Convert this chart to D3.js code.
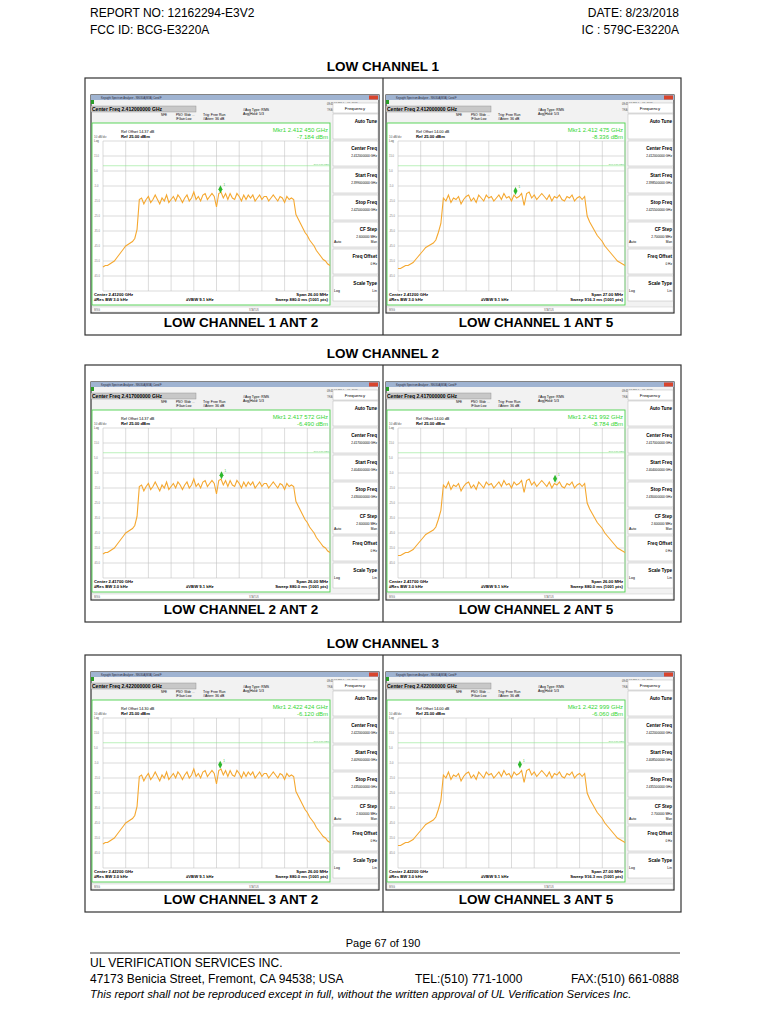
<!DOCTYPE html>
<html><head><meta charset="utf-8">
<script src="https://cdn.jsdelivr.net/npm/d3@7"></script>
<style>body{margin:0;background:#fff}svg{display:block}</style>
</head><body><svg id="c" width="768" height="1024"></svg>
<script>
// ---- data ----
const rowTitles = ["LOW CHANNEL 1","LOW CHANNEL 2","LOW CHANNEL 3"];
const captions = ["LOW CHANNEL 1 ANT 2","LOW CHANNEL 1 ANT 5","LOW CHANNEL 2 ANT 2","LOW CHANNEL 2 ANT 5","LOW CHANNEL 3 ANT 2","LOW CHANNEL 3 ANT 5"];
const centerFreqs = ["2.412000000","2.412000000","2.417000000","2.417000000","2.422000000","2.422000000"];
const centerShort = ["2.41200","2.41200","2.41700","2.41700","2.42200","2.42200"];
const refOffsets = ["14.37","14.00","14.37","14.00","14.30","14.00"];
const mkrFreqs = ["2.412 450","2.412 475","2.417 572","2.421 992","2.422 424","2.422 999"];
const mkrLevels = [-7.184,-8.336,-6.490,-8.784,-6.120,-6.060];
const spans = [26.00,27.00,26.00,26.00,26.00,27.00];
const sweeps = ["880.0","916.3","880.0","880.0","880.0","916.3"];
const startFreqs = ["2.399000000","2.398500000","2.404000000","2.404000000","2.409000000","2.408500000"];
const stopFreqs = ["2.425000000","2.425500000","2.430000000","2.430000000","2.435000000","2.435500000"];
const cfSteps = ["2.600000","2.700000","2.600000","2.600000","2.600000","2.700000"];
const yTicks = [25,15,5,-5,-15,-25,-35,-45,-55,-65,-75];
const limitLine = 8.5;
// trace (dBm) at evenly spaced points across the span
const traceA = [-59,-58,-58,-57,-56,-55,-53,-51,-49,-47,-45,-44,-43,-42,-40,-34,
 -14,-13,-17,-14,-12,-16,-14,-11,-14,-17,
 -13,-15,-11,-16,-14,-12,-15,-11,-13,-16,
 -13,-11,-15,-13,-9,-14,-12,-15,-11,-10,
 -14,-12,-10,-12,-19,-10,-9,-13,-10,-14,
 -10,-13,-14,-10,-12,-15,-11,-14,-11,-13,
 -11,-15,-13,-11,-14,-12,-12,-15,-13,-11,
 -13,-15,-12,-13,-16,-12,-14,-13,-14,
 -24,-27,-30,-33,-36,-38,-41,-43,-45,-48,-50,-52,-54,-55,-57,-58];
const traceB = [-60,-60,-59,-58,-58,-57,-56,-54,-52,-50,-48,-46,-45,-44,-43,-41,-36,-30,
 -13,-15,-11,-16,-13,-14,-12,-17,-14,-12,
 -11,-15,-13,-16,-11,-13,-15,-11,-13,-12,
 -15,-13,-11,-14,-10,-13,-12,-15,-11,-13,
 -12,-10,-18,-10,-9,-13,-11,-14,-12,-10,
 -12,-14,-11,-15,-12,-13,-11,-14,-15,-12,
 -13,-11,-15,-13,-12,-14,-12,
 -25,-29,-32,-35,-38,-40,-42,-45,-47,-49,-51,-53,-55,-56,-57,-58];
const traces=[traceA,traceB,traceA,traceB,traceA,traceB];

const svg=d3.select("#c");
const F="Liberation Sans, Arial, sans-serif";
function T(g,x,y,s,o={}){return g.append("text").attr("x",x).attr("y",y).text(s)
 .attr("font-family",F).attr("font-size",o.fs||12).attr("fill",o.c||"#000")
 .attr("font-weight",o.b?"bold":null).attr("font-style",o.i?"italic":null).attr("text-anchor",o.a||"start");}

T(svg,90,17,"REPORT NO: 12162294-E3V2");
T(svg,90,34,"FCC ID: BCG-E3220A");
T(svg,679,17,"DATE: 8/23/2018",{a:"end"});
T(svg,679,34,"IC : 579C-E3220A",{a:"end"});

const rowTop=[78,365,655];
rowTitles.forEach((t,r)=>{
 T(svg,383,rowTop[r]-7,t,{fs:13.5,b:true,a:"middle"});
 const b=svg.append("g");
 b.append("rect").attr("x",85).attr("y",rowTop[r]).attr("width",596).attr("height",257).attr("fill","none").attr("stroke","#333").attr("stroke-width",1.2);
 b.append("line").attr("x1",383).attr("x2",383).attr("y1",rowTop[r]).attr("y2",rowTop[r]+257).attr("stroke","#333").attr("stroke-width",1.2);
});

function panel(i){
 const r=Math.floor(i/2),c=i%2;
 const ox=91+c*295, oy=rowTop[r]+17;
 const g=svg.append("g").attr("transform",`translate(${ox},${oy})`);
 const W=288,H=218;
 g.append("rect").attr("width",W).attr("height",H).attr("fill","#f2f2f2").attr("stroke","#333").attr("stroke-width",1.2);
 g.append("rect").attr("width",W).attr("height",5).attr("fill","#9fb3d1");
 g.append("rect").attr("x",W-10).attr("y",0.5).attr("width",9).attr("height",4).attr("fill","#d8442c");
 T(g,10,3.8,"Keysight Spectrum Analyzer - N9030A(MXA) Cond F",{fs:2.6,c:"#223"});
 g.append("rect").attr("x",0).attr("y",5).attr("width",3).attr("height",4).attr("fill","#2a9d2a");
 g.append("rect").attr("x",0).attr("y",11).attr("width",105).attr("height",6).attr("fill","#c8c8c8").attr("stroke","#888").attr("stroke-width",0.4);
 T(g,1,16,"Center Freq "+centerFreqs[i]+" GHz",{fs:5,b:true});
 T(g,70,21,"NFE",{fs:3});T(g,85,21,"PNO: Wide ↔",{fs:3});T(g,85,25,"IFGain:Low",{fs:3});
 T(g,112,21,"Trig: Free Run",{fs:3.5});T(g,112,25,"#Atten: 36 dB",{fs:3.5});
 T(g,152,16,"#Avg Type: RMS",{fs:3.5});T(g,152,20,"Avg|Hold: 5/3",{fs:3.5});
 T(g,236,10,"09:45:51 PM Jun 19, 2018",{fs:2.6,c:"#333"});
 T(g,236,16,"TRACE 1 2 3 4 5 6",{fs:2.6,c:"#666"});
 g.append("rect").attr("x",1).attr("y",28).attr("width",238).attr("height",182).attr("fill","#fff").attr("stroke","#4cd04c").attr("stroke-width",0.9);
 T(g,30,38,"Ref Offset "+refOffsets[i]+" dB",{fs:3.8});
 T(g,30,43,"Ref 25.00 dBm",{fs:4.2,b:true});
 T(g,3,43,"10 dB/div",{fs:3,c:"#555"});T(g,3,47,"Log",{fs:3,c:"#555"});
 T(g,237,37,"Mkr1 "+mkrFreqs[i]+" GHz",{fs:6,c:"#33d633",a:"end"});
 T(g,237,44,mkrLevels[i].toFixed(3)+" dBm",{fs:6,c:"#33d633",a:"end"});
 const pl=12,pr=239,pt=46,pb=196;
 const x=d3.scaleLinear().domain([0,100]).range([pl,pr]);
 const y=d3.scaleLinear().domain([-75,25]).range([pb,pt]);
 const grid=g.append("g");
 d3.range(0,101,10).forEach(v=>grid.append("line").attr("x1",x(v)).attr("x2",x(v)).attr("y1",pt).attr("y2",pb).attr("stroke","#c4c4c4").attr("stroke-width",0.6));
 yTicks.forEach(v=>{grid.append("line").attr("x1",pl).attr("x2",pr).attr("y1",y(v)).attr("y2",y(v)).attr("stroke","#c4c4c4").attr("stroke-width",0.6);
   if(v<25&&v>-75)T(g,3,y(v)+1,v.toFixed(1),{fs:2.6,c:"#777"});});
 g.append("line").attr("x1",pl).attr("x2",pr).attr("y1",y(limitLine)).attr("y2",y(limitLine)).attr("stroke","#8ee88e").attr("stroke-width",0.6);
 T(g,pr-1,y(limitLine)-1,"DL1 8.50 dBm",{fs:2.4,c:"#6c6",a:"end"});
 const tr=traces[i];
 const xi=d3.scaleLinear().domain([0,tr.length-1]).range([0,100]);
 g.append("path").attr("d",d3.line().x((d,k)=>x(xi(k))).y(d=>y(d))(tr)).attr("fill","none").attr("stroke","#f5a830").attr("stroke-width",1.1);
 const span=spans[i];
 const cf=parseFloat(centerShort[i]);
 const mf=parseFloat(mkrFreqs[i].replace(" ",""));
 const mx=x(50+(mf-cf)*1000/span*100);
 const my=y(mkrLevels[i]);
 g.append("path").attr("d",`M${mx},${my-4}L${mx+2},${my}L${mx},${my+4}L${mx-2},${my}Z`).attr("fill","#2db82d");
 T(g,mx+3,my-3,"1",{fs:3,c:"#2db82d"});
 T(g,3,201,"Center "+centerShort[i]+" GHz",{fs:4.2,b:true});
 T(g,3,206,"#Res BW 3.0 kHz",{fs:4.2,b:true});
 T(g,95,206,"#VBW 9.1 kHz",{fs:4.2,b:true});
 T(g,237,201,"Span "+span.toFixed(2)+" MHz",{fs:4.2,b:true,a:"end"});
 T(g,237,206,"Sweep  "+sweeps[i]+" ms (1001 pts)",{fs:4.2,b:true,a:"end"});
 const keys=[["Auto Tune",""],["Center Freq",centerFreqs[i]+" GHz"],["Start Freq",startFreqs[i]+" GHz"],["Stop Freq",stopFreqs[i]+" GHz"],["CF Step",cfSteps[i]+" MHz"],["Freq Offset","0 Hz"],["Scale Type",""]];
 g.append("rect").attr("x",242).attr("y",8).attr("width",45).attr("height",10).attr("fill","#fff").attr("stroke","#aaa").attr("stroke-width",0.4);
 T(g,264,15,"Frequency",{fs:4.3,a:"middle"});
 keys.forEach((k,j)=>{const ky=18+j*27;
  g.append("rect").attr("x",242).attr("y",ky+1).attr("width",45).attr("height",25).attr("fill","#fff").attr("stroke","#aaa").attr("stroke-width",0.4);
  T(g,286,ky+10,k[0],{fs:4.6,b:true,a:"end"});
  if(k[1])T(g,286,ky+17,k[1],{fs:3.2,a:"end"});
  if(j==4){T(g,243,ky+22,"Auto",{fs:3.5});T(g,286,ky+22,"Man",{fs:3.2,a:"end"});}
  if(j==6){T(g,243,ky+17,"Log",{fs:3.5});T(g,286,ky+17,"Lin",{fs:3.5,a:"end"});}
 });
 g.append("rect").attr("x",1).attr("y",212).attr("width",286).attr("height",5).attr("fill","#fff").attr("stroke","#aaa").attr("stroke-width",0.3);
 T(g,3,216,"MSG",{fs:2.6,c:"#666"});T(g,158,216,"STATUS",{fs:2.6,c:"#666"});
 T(g,150,rowTop[r]+249-oy,captions[i],{fs:13.5,b:true,a:"middle"});
}
d3.range(6).forEach(panel);

T(svg,383,947,"Page 67 of 190",{fs:11,a:"middle"});
svg.append("line").attr("x1",90).attr("x2",680).attr("y1",953).attr("y2",953).attr("stroke","#000").attr("stroke-width",0.8);
T(svg,90,967,"UL VERIFICATION SERVICES INC.");
T(svg,90,983,"47173 Benicia Street, Fremont, CA 94538; USA");
T(svg,415,983,"TEL:(510) 771-1000");
T(svg,679,983,"FAX:(510) 661-0888",{a:"end"});
T(svg,90,998,"This report shall not be reproduced except in full, without the written approval of UL Verification Services Inc.",{fs:11.3,i:true});
</script></body></html>
